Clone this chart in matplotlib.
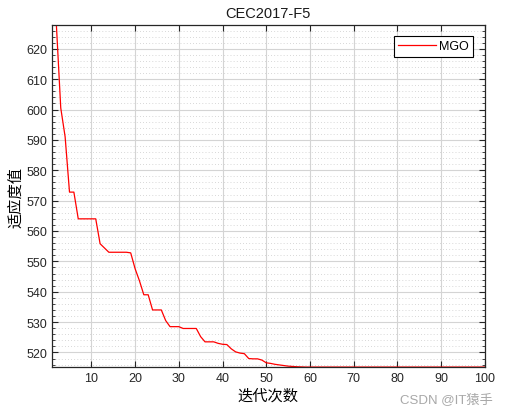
import numpy as np
import matplotlib.pyplot as plt
from matplotlib.ticker import MultipleLocator

plt.rcParams['font.family'] = ['Liberation Sans', 'Noto Sans CJK SC', 'DejaVu Sans']

# convergence curve (iterations 1..100)
iters = list(range(1, 101))
mgo = [627.8, 627.8, 600.5, 591.0, 572.8, 572.8, 564.0, 564.0, 564.0, 564.0,
       564.0, 555.8, 554.4, 553.0, 553.0, 553.0, 553.0, 553.0, 552.8, 547.6,
       543.6, 539.0, 539.0, 534.0, 534.0, 534.0, 530.5, 528.5, 528.5, 528.5,
       527.9, 527.9, 527.9, 527.9, 525.2, 523.5, 523.5, 523.5, 523.0, 522.7,
       522.6, 521.2, 520.2, 519.8, 519.6, 518.0, 517.9, 517.9, 517.5, 516.6,
       516.4, 516.1, 515.9, 515.7, 515.5, 515.4, 515.3, 515.25, 515.2, 515.2,
       515.2, 515.2, 515.2, 515.2, 515.2, 515.2, 515.2, 515.2, 515.2, 515.2,
       515.2, 515.2, 515.2, 515.2, 515.2, 515.2, 515.2, 515.2, 515.2, 515.2,
       515.2, 515.2, 515.2, 515.2, 515.2, 515.2, 515.2, 515.2, 515.2, 515.2,
       515.2, 515.2, 515.2, 515.2, 515.2, 515.2, 515.2, 515.2, 515.2, 515.2]
x_ticks = [10, 20, 30, 40, 50, 60, 70, 80, 90, 100]
y_ticks = [520, 530, 540, 550, 560, 570, 580, 590, 600, 610, 620]

fig = plt.figure(figsize=(5.05, 4.14), dpi=100)
ax = fig.add_axes([0.103, 0.111, 0.857, 0.826])

ax.plot(iters, mgo, color='red', linewidth=0.9, label='MGO')
ax.set_xlim(1, 100)
ax.set_ylim(min(mgo), max(mgo))
ax.set_xticks(x_ticks)
ax.set_yticks(y_ticks)
ax.yaxis.set_minor_locator(MultipleLocator(2))

# matlab-ish grid: solid major, dotted minor on y
ax.grid(True, which='major', color='#d4d4d4', linewidth=0.8, linestyle='-')
ax.grid(True, which='minor', axis='y', color='#b4b4b4', linewidth=0.5, linestyle=(0, (1, 3.5)))
ax.set_axisbelow(True)

ax.tick_params(which='both', direction='in', top=True, right=True, labelsize=9, colors='#262626')
ax.tick_params(which='major', length=4)
ax.tick_params(which='minor', length=2.5)
for s in ax.spines.values():
    s.set_color('#262626')
    s.set_linewidth(0.9)

ax.set_title('CEC2017-F5', fontsize=10.5, color='#1a1a1a', pad=6)
ax.set_xlabel('迭代次数', fontsize=11, labelpad=3)
ax.set_ylabel('适应度值', fontsize=11, labelpad=2)

leg = ax.legend(loc='upper right', fontsize=9, fancybox=False, framealpha=1,
                edgecolor='black', borderpad=0.35, handlelength=3.0,
                handletextpad=0.25, borderaxespad=0,
                bbox_to_anchor=(0.973, 0.968))
leg.get_frame().set_linewidth(0.8)

fig.text(0.975, 0.02, 'CSDN @IT猿手', fontsize=9.5, color='#a8a8a8', ha='right', va='bottom')

fig.savefig('out.png', dpi=100)
